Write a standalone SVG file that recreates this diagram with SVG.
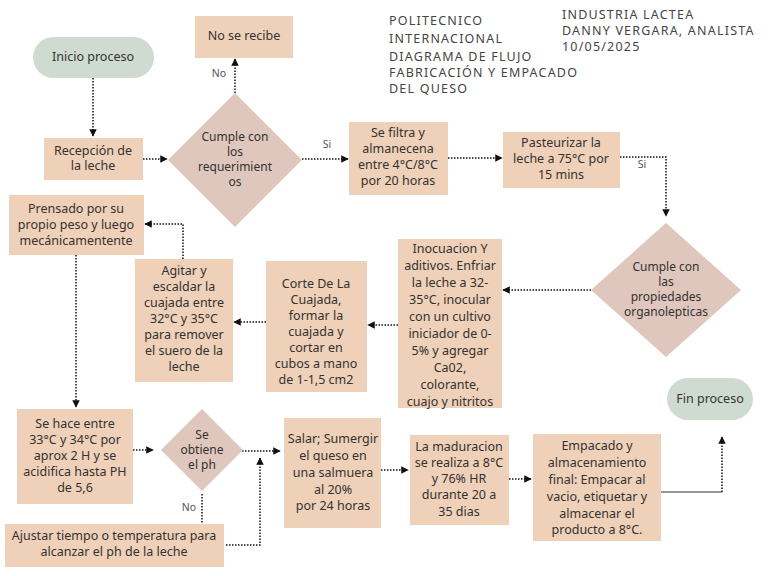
<svg xmlns="http://www.w3.org/2000/svg" width="768" height="576" viewBox="0 0 768 576">
<defs>
<marker id="a" viewBox="0 0 10 10" refX="9" refY="5" markerWidth="5" markerHeight="5" orient="auto"><path d="M0,0 L10,5 L0,10 z" fill="#111"/></marker>
<style>
.b{fill:#efd0b8}.d{fill:#dfc7bd}.g{fill:#cfdbd1}
text{font-family:"Noto Sans","DejaVu Sans",sans-serif;font-size:12.5px;fill:#333;text-anchor:middle}
.dt{font-size:12px}
.t{font-size:12.5px;text-anchor:start;letter-spacing:1.2px;fill:#444}
.l{font-size:10.5px;fill:#555}
.c path{fill:none;stroke:#111;stroke-width:1.5;stroke-dasharray:1.5 1.5}
.c path.s{stroke-dasharray:none;stroke:#333;stroke-width:1}
</style>
</defs>
<rect width="768" height="576" fill="#fff"/>
<g id="title">
<text class="t" x="389" y="25">POLITECNICO</text>
<text class="t" x="389" y="43">INTERNACIONAL</text>
<text class="t" x="389" y="61">DIAGRAMA DE FLUJO</text>
<text class="t" x="389" y="77">FABRICACIÓN Y EMPACADO</text>
<text class="t" x="389" y="93">DEL QUESO</text>
<text class="t" x="562" y="19">INDUSTRIA LACTEA</text>
<text class="t" x="562" y="35">DANNY VERGARA, ANALISTA</text>
<text class="t" x="562" y="51">10/05/2025</text>
</g>
<g class="c" id="connectors">
<path d="M93,78 V136" marker-end="url(#a)"/>
<path d="M143,159 H167" marker-end="url(#a)"/>
<path d="M235,93 V59" marker-end="url(#a)"/>
<path d="M302,159 H348" marker-end="url(#a)"/>
<path d="M448,158 H502" marker-end="url(#a)"/>
<path d="M620,157 H666 V216" marker-end="url(#a)"/>
<path d="M591,290 H503" marker-end="url(#a)"/>
<path d="M398,325 H368" marker-end="url(#a)"/>
<path d="M266,322 H234" marker-end="url(#a)"/>
<path d="M183,259 V224 H145" marker-end="url(#a)"/>
<path d="M76,255 V407" marker-end="url(#a)"/>
<path d="M130,450 H153" marker-end="url(#a)"/>
<path d="M242,451 H280" marker-end="url(#a)"/>
<path d="M202,494 V525"/>
<path d="M226,545 H260 V458" marker-end="url(#a)"/>
<path d="M381,470 H408" marker-end="url(#a)"/>
<path d="M509,479 H531" marker-end="url(#a)"/>
<path class="s" d="M661,492 H722"/>
<path d="M722,492 V437" marker-end="url(#a)"/>
<text class="l" x="219" y="77">No</text>
<text class="l" x="327" y="148">Si</text>
<text class="l" x="642" y="168">Si</text>
<text class="l" x="189" y="511">No</text>
</g>
<g id="inicio"><rect class="g" x="33" y="37" width="121" height="41" rx="20.5"/><text x="93" y="61">Inicio proceso</text></g>
<g id="norecibe"><rect class="b" x="195" y="16" width="98" height="42"/><text x="244" y="40">No se recibe</text></g>
<g id="recepcion"><rect class="b" x="44" y="138" width="99" height="42"/><text x="93" y="155">Recepción de</text><text x="93" y="170">la leche</text></g>
<g id="cumple1"><polygon class="d" points="235,93 302,160 235,227 168,160"/><text class="dt" x="235" y="141">Cumple con</text><text class="dt" x="235" y="156">los</text><text class="dt" x="235" y="171">requerimient</text><text class="dt" x="235" y="186">os</text></g>
<g id="filtra"><rect class="b" x="349" y="122" width="99" height="73"/><text x="398" y="137">Se filtra y</text><text x="398" y="153">almanecena</text><text x="398" y="169">entre 4°C/8°C</text><text x="398" y="185">por 20 horas</text></g>
<g id="pasteurizar"><rect class="b" x="503" y="132" width="117" height="56"/><text x="561" y="147">Pasteurizar la</text><text x="561" y="163">leche a 75°C por</text><text x="561" y="179">15 mins</text></g>
<g id="cumple2"><polygon class="d" points="666,223 741,290 666,357 591,290"/><text class="dt" x="666" y="271">Cumple con</text><text class="dt" x="666" y="286">las</text><text class="dt" x="666" y="301">propiedades</text><text class="dt" x="666" y="316">organolepticas</text></g>
<g id="inocuacion"><rect class="b" x="398" y="239" width="104" height="169"/>
<text x="450" y="253">Inocuacion Y</text><text x="450" y="270">aditivos. Enfriar</text><text x="450" y="287">la leche a 32-</text><text x="450" y="304">35°C, inocular</text><text x="450" y="321">con un cultivo</text><text x="450" y="338">iniciador de 0-</text><text x="450" y="355">5% y agregar</text><text x="450" y="372">Ca02,</text><text x="450" y="389">colorante,</text><text x="450" y="406">cuajo y nitritos</text></g>
<g id="corte"><rect class="b" x="266" y="261" width="101" height="131"/>
<text x="316" y="288">Corte De La</text><text x="316" y="304">Cuajada,</text><text x="316" y="320">formar la</text><text x="316" y="336">cuajada y</text><text x="316" y="352">cortar en</text><text x="316" y="368">cubos a mano</text><text x="316" y="384">de 1-1,5 cm2</text></g>
<g id="agitar"><rect class="b" x="135" y="259" width="98" height="123"/>
<text x="184" y="275">Agitar y</text><text x="184" y="291">escaldar la</text><text x="184" y="307">cuajada entre</text><text x="184" y="323">32°C y 35°C</text><text x="184" y="339">para remover</text><text x="184" y="355">el suero de la</text><text x="184" y="371">leche</text></g>
<g id="prensado"><rect class="b" x="9" y="195" width="135" height="60"/><text x="76" y="213">Prensado por su</text><text x="76" y="229">propio peso y luego</text><text x="76" y="245">mecánicamentente</text></g>
<g id="sehace"><rect class="b" x="17" y="409" width="116" height="95"/>
<text x="75" y="428">Se hace entre</text><text x="75" y="444">33°C y 34°C por</text><text x="75" y="460">aprox 2 H y se</text><text x="75" y="476">acidifica hasta PH</text><text x="75" y="492">de 5,6</text></g>
<g id="obtiene"><polygon class="d" points="202,409 243,450 202,491 161,450"/><text class="dt" x="202" y="439">Se</text><text class="dt" x="202" y="454">obtiene</text><text class="dt" x="202" y="469">el ph</text></g>
<g id="ajustar"><rect class="b" x="5" y="524" width="219" height="43"/><text x="114" y="540">Ajustar tiempo o temperatura para</text><text x="114" y="556">alcanzar el ph de la leche</text></g>
<g id="salar"><rect class="b" x="284" y="418" width="97" height="110"/>
<text x="333" y="443">Salar; Sumergir</text><text x="333" y="460">el queso en</text><text x="333" y="477">una salmuera</text><text x="333" y="494">al 20%</text><text x="333" y="510">por 24 horas</text></g>
<g id="maduracion"><rect class="b" x="410" y="435" width="99" height="90"/>
<text x="459" y="451">La maduracion</text><text x="459" y="467">se realiza a 8°C</text><text x="459" y="483">y 76% HR</text><text x="459" y="499">durante 20 a</text><text x="459" y="516">35 dias</text></g>
<g id="empacado"><rect class="b" x="533" y="434" width="128" height="107"/>
<text x="597" y="450">Empacado y</text><text x="597" y="467">almacenamiento</text><text x="597" y="484">final: Empacar al</text><text x="597" y="501">vacio, etiquetar y</text><text x="597" y="518">almacenar el</text><text x="597" y="534">producto a 8°C.</text></g>
<g id="fin"><rect class="g" x="667" y="378" width="86" height="42" rx="21"/><text x="710" y="403">Fin proceso</text></g>
</svg>
